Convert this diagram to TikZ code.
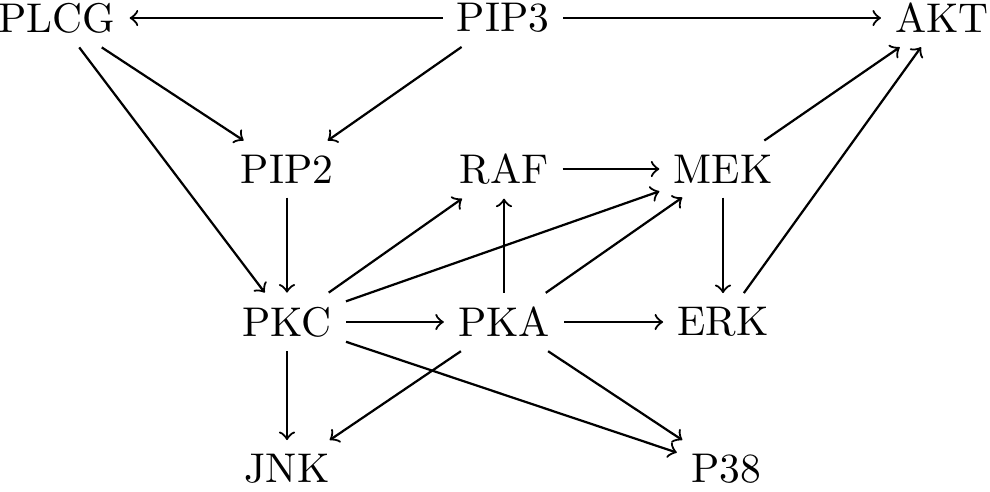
\documentclass[tikz,border=0pt]{standalone}
\begin{document}
\begin{tikzpicture}[x=0.2469pt,y=-0.2469pt,
  gnode/.style={font=\fontsize{10.25}{12}\selectfont},
  edge/.style={->,line width=0.55pt}]
\useasboundingbox (0,0) rectangle (990,491);
\node[gnode] (PLCG) at (57,18) {PLCG};
\node[gnode] (PIP3) at (503,18) {PIP3};
\node[gnode] (AKT) at (942,18) {AKT};
\node[gnode] (PIP2) at (287,169) {PIP2};
\node[gnode] (RAF) at (504,169) {RAF};
\node[gnode] (MEK) at (723,169) {MEK};
\node[gnode] (PKC) at (287,322) {PKC};
\node[gnode] (PKA) at (504,322) {PKA};
\node[gnode] (ERK) at (723,322) {ERK};
\node[gnode] (JNK) at (287,469) {JNK};
\node[gnode] (P38) at (726,469) {P38};
\draw[edge] (PIP3) -- (PLCG);
\draw[edge] (PIP3) -- (AKT);
\draw[edge] (PLCG) -- (PIP2);
\draw[edge] (PLCG) -- (PKC);
\draw[edge] (PIP3) -- (PIP2);
\draw[edge] (PIP2) -- (PKC);
\draw[edge] (RAF) -- (MEK);
\draw[edge] (MEK) -- (AKT);
\draw[edge] (MEK) -- (ERK);
\draw[edge] (ERK) -- (AKT);
\draw[edge] (PKC) -- (RAF);
\draw[edge] (PKC) -- (MEK);
\draw[edge] (PKC) -- (PKA);
\draw[edge] (PKC) -- (JNK);
\draw[edge] (PKC) -- (P38);
\draw[edge] (PKA) -- (RAF);
\draw[edge] (PKA) -- (MEK);
\draw[edge] (PKA) -- (ERK);
\draw[edge] (PKA) -- (JNK);
\draw[edge] (PKA) -- (P38);
\end{tikzpicture}
\end{document}
